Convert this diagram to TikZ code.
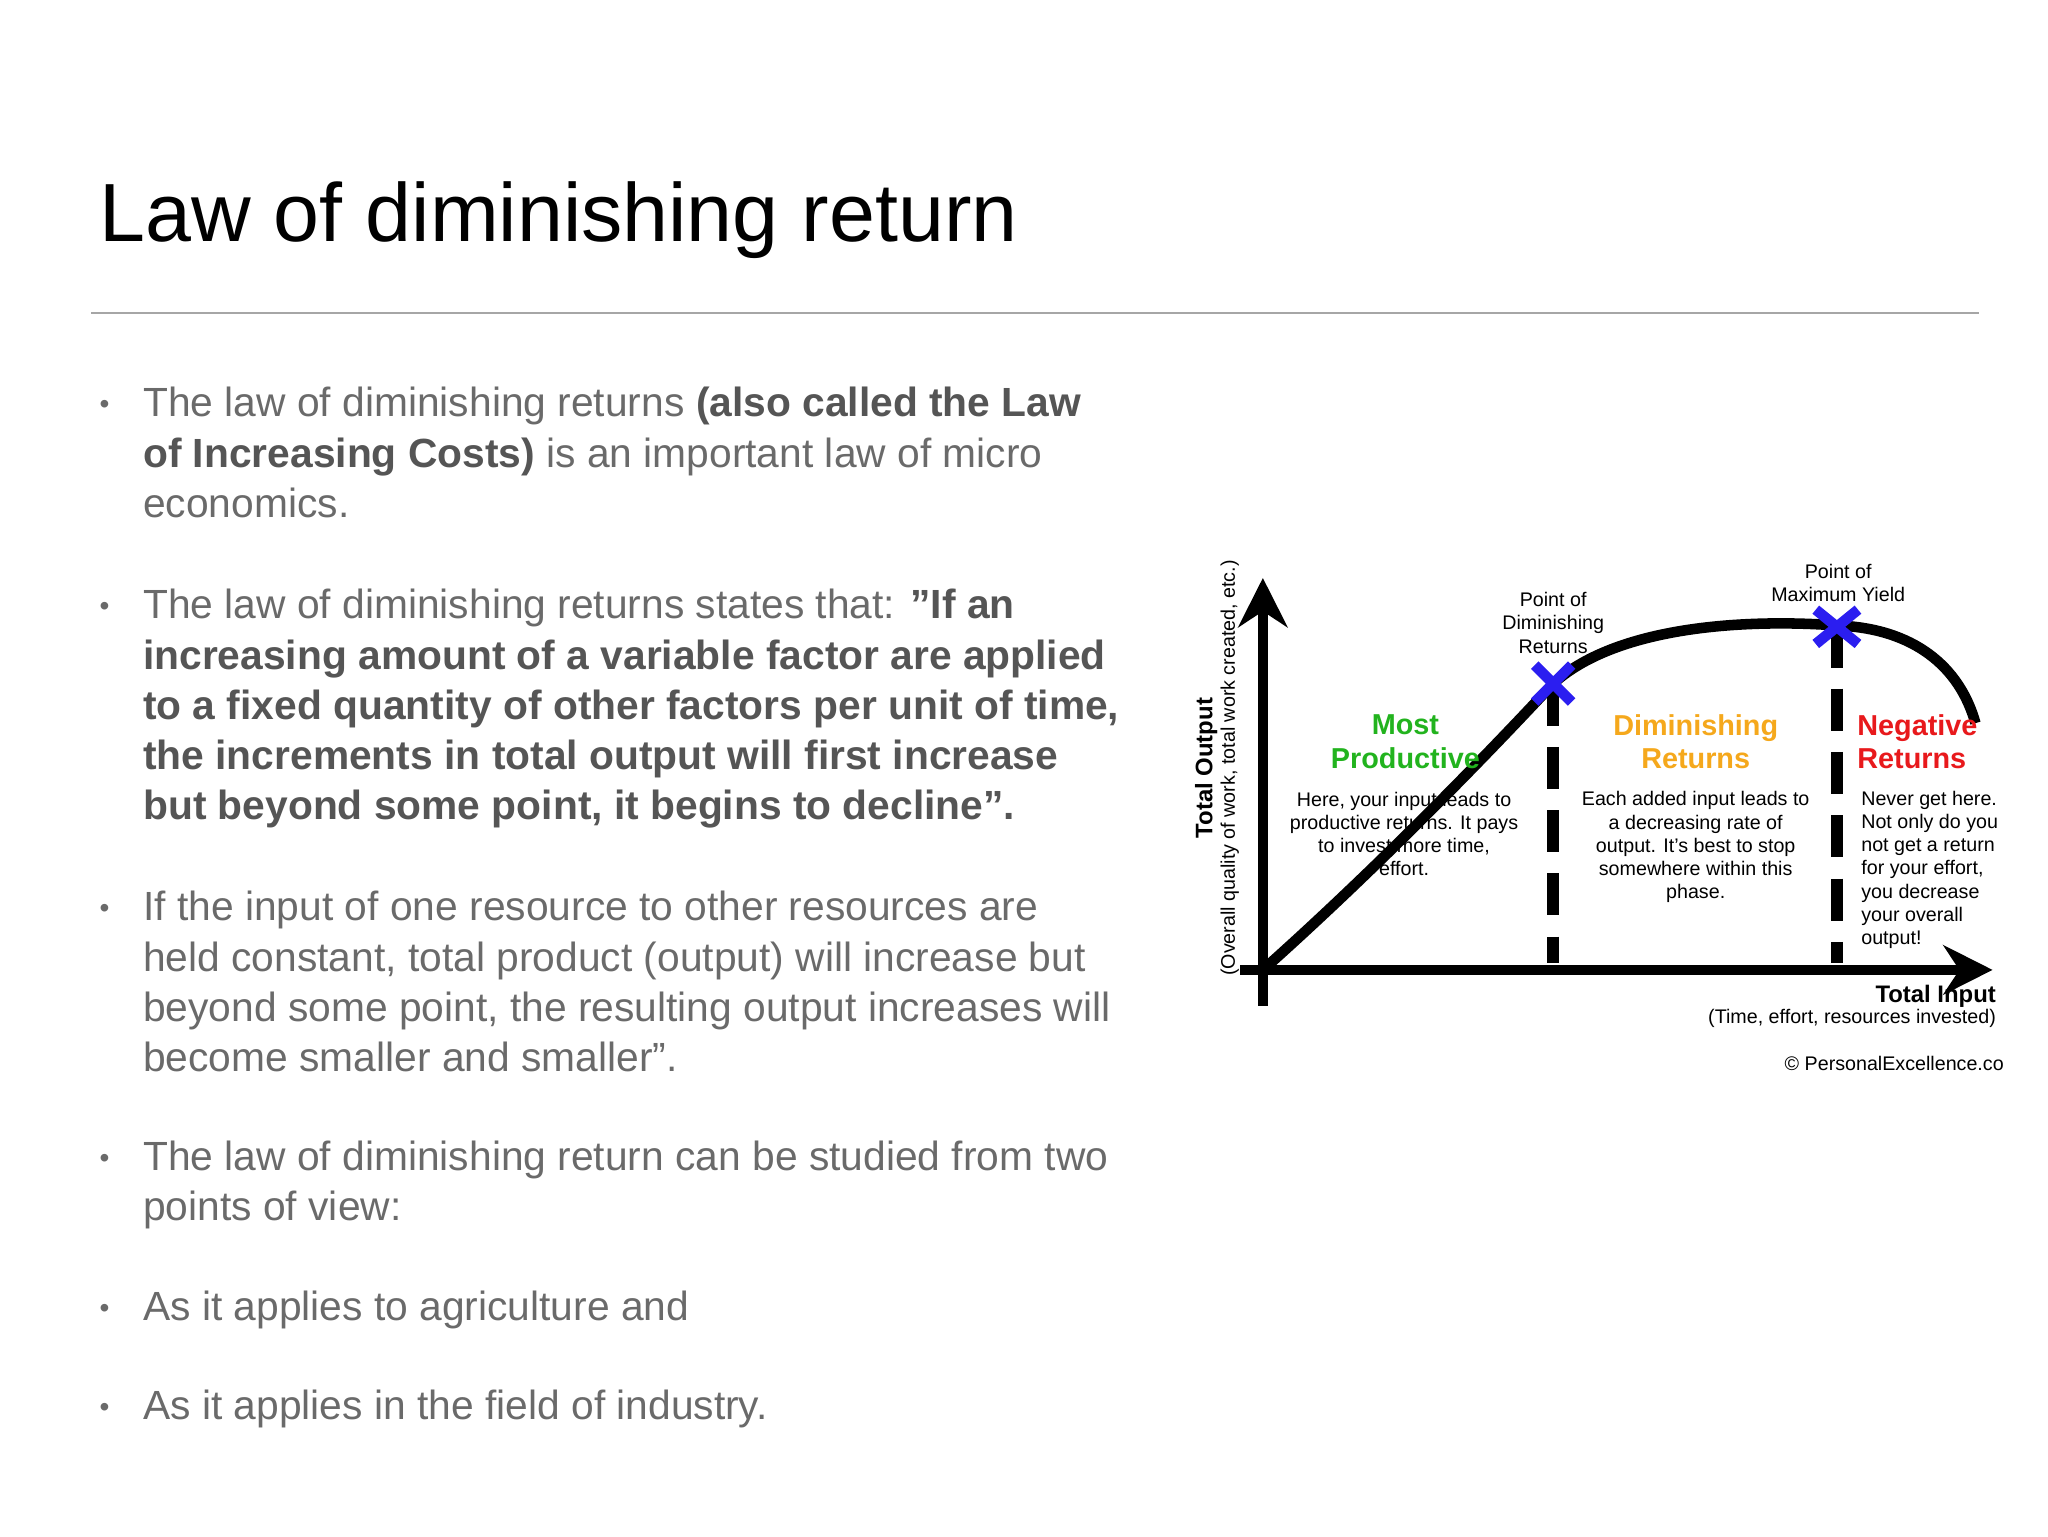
\documentclass[tikz,border=0pt]{standalone}
\usepackage{fontspec}
\setmainfont{Liberation Sans}
\usetikzlibrary{arrows.meta,calc}
\definecolor{txt}{HTML}{6A6A6A}
\definecolor{btxt}{HTML}{555555}
\definecolor{mgreen}{HTML}{22B31E}
\definecolor{morange}{HTML}{F5A81C}
\definecolor{mred}{HTML}{E8191C}
\definecolor{mblue}{HTML}{2B1EF0}
\begin{document}
\begin{tikzpicture}[x=0.013196cm,y=-0.013196cm,
  body/.style={anchor=north west,align=left,text=txt,font=\fontsize{11.6}{14.3}\selectfont,inner sep=0},
  bul/.style={anchor=north west,text=txt,font=\fontsize{8}{10}\selectfont,inner sep=0},
  small/.style={align=center,font=\fontsize{5.6}{6.6}\selectfont,inner sep=0},
  head/.style={align=center,font=\bfseries\fontsize{8.2}{9.6}\selectfont,inner sep=0},
  xmark/.style={mblue,line width=3pt}]
\useasboundingbox (0,0) rectangle (1552,1164);
\node[anchor=west,inner sep=0,font=\fontsize{23.5}{28}\selectfont] (title) at (75,167) {Law of diminishing return};
\draw[gray!70,line width=0.6pt] (69,237) -- (1500,237);
% bullets
\foreach \yy/\nm in {297/b1,450/b2,679/b3,868/b4,982/b5,1057/b6}{\node[bul] (\nm) at (75,\yy+6) {•};}
\node[body] (t1) at (108,293) {The law of diminishing returns \textbf{\color{btxt}(also called the Law}\\\textbf{\color{btxt}of Increasing Costs)} is an important law of micro\\economics.};
\node[body] (t2) at (108,446) {The law of diminishing returns states that: \textbf{\color{btxt}"If an}\\\textbf{\color{btxt}increasing amount of a variable factor are applied}\\\textbf{\color{btxt}to a fixed quantity of other factors per unit of time,}\\\textbf{\color{btxt}the increments in total output will first increase}\\\textbf{\color{btxt}but beyond some point, it begins to decline".}};
\node[body] (t3) at (108,675) {If the input of one resource to other resources are\\held constant, total product (output) will increase but\\beyond some point, the resulting output increases will\\become smaller and smaller".};
\node[body] (t4) at (108,864) {The law of diminishing return can be studied from two\\points of view:};
\node[body] (t5) at (108,978) {As it applies to agriculture and};
\node[body] (t6) at (108,1053) {As it applies in the field of industry.};
% chart
\coordinate (o) at (957,735);
\coordinate (ytop) at (957,438);
\coordinate (ybot) at (957,762);
\coordinate (xl) at (940,735);
\coordinate (xr) at (1510,735);
\draw[line width=3pt,-{Stealth[length=14pt,width=14pt]}] (ybot) -- (ytop);
\draw[line width=3pt,-{Stealth[length=14pt,width=14pt]}] (xl) -- (xr);
\coordinate (pd) at (1177,518);
\coordinate (pm) at (1392,474);
\coordinate (pe) at (1497,548);
\draw[line width=3pt] (o) .. controls (1030,670) and (1110,590) .. (pd)
  .. controls (1230,470) and (1340,470) .. (pm)
  .. controls (1450,476) and (1485,505) .. (pe);
\coordinate (pdb) at (1177,730);
\coordinate (pmb) at (1392,730);
\draw[line width=3.5pt,dash pattern=on 12pt off 6pt] (pd) -- (pdb);
\draw[line width=3.5pt,dash pattern=on 12pt off 6pt] (pm) -- (pmb);
\draw[xmark] ($(pd)+(-14,-14)$) -- ($(pd)+(14,14)$) ($(pd)+(-14,14)$) -- ($(pd)+(14,-14)$);
\draw[xmark] ($(pm)+(-16,-12)$) -- ($(pm)+(16,14)$) ($(pm)+(-16,14)$) -- ($(pm)+(16,-12)$);
\node[small] (lpd) at (1177,472) {Point of\\Diminishing\\Returns};
\node[small] (lpm) at (1393,442) {Point of\\Maximum Yield};
\node[head,text=mgreen] (h1) at (1065,562) {Most\\Productive};
\node[head,text=morange] (h2) at (1285,562) {Diminishing\\Returns};
\node[head,text=mred,align=left] (h3) at (1453,562) {Negative\\Returns};
\node[small] (d1) at (1064,632) {Here, your input leads to\\productive returns. It pays\\to invest more time,\\effort.};
\node[small] (d2) at (1285,642) {Each added input leads to\\a decreasing rate of\\output. It's best to stop\\somewhere within this\\phase.};
\node[small,align=left,anchor=north west] (d3) at (1410,599) {Never get here.\\Not only do you\\not get a return\\for your effort,\\you decrease\\your overall\\output!};
\node[font=\bfseries\fontsize{6.8}{8}\selectfont,anchor=east,inner sep=0] (xlab) at (1513,755) {Total Input};
\node[small,anchor=east] (xsub) at (1513,772) {(Time, effort, resources invested)};
\node[rotate=90,font=\bfseries\fontsize{6.8}{8}\selectfont,inner sep=0] (ylab) at (914,582) {Total Output};
\node[rotate=90,small] (ysub) at (932,582) {(Overall quality of work, total work created, etc.)};
\node[small,anchor=east] (copy) at (1519,806) {© PersonalExcellence.co};
\end{tikzpicture}
\end{document}
